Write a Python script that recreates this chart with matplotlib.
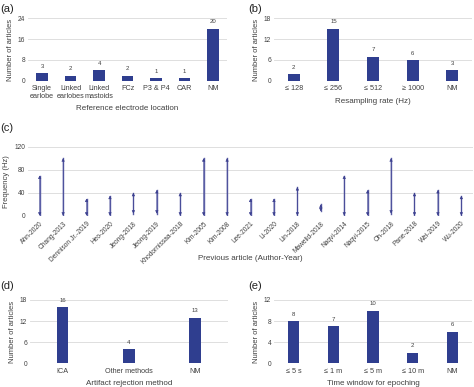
import matplotlib.pyplot as plt

# data
ref_labels = ["Single\nearlobe", "Linked\nearlobes", "Linked\nmastoids", "FCz", "P3 & P4", "CAR", "NM"]
ref_counts = [3, 2, 4, 2, 1, 1, 20]

rate_labels = ["≤ 128", "≤ 256", "≤ 512", "≥ 1000", "NM"]
rate_counts = [2, 15, 7, 6, 3]

articles = ["Ahn-2020", "Chang-2013", "Dennison Jr.-2019", "Heo-2020", "Jeong-2018",
            "Jeong-2019", "Khodornissaa-2018", "Kim-2005", "Kim-2008", "Lee-2021",
            "Li-2020", "Lin-2018", "Mawelid-2018", "Naqvi-2014", "Naqvi-2015",
            "Oh-2018", "Pane-2018", "Wei-2019", "Wu-2020"]
freq_low = [0.5, 0.5, 0.5, 0.5, 4, 4, 0.5, 0.5, 0.5, 0.5, 0.5, 0.5, 8, 0.5, 0.5, 4, 0.5, 0.5, 0.5]
freq_high = [70, 100, 30, 35, 40, 45, 40, 100, 100, 30, 30, 50, 20, 70, 45, 100, 40, 45, 35]

art_labels = ["ICA", "Other methods", "NM"]
art_counts = [16, 4, 13]

epoch_labels = ["≤ 5 s", "≤ 1 m", "≤ 5 m", "≤ 10 m", "NM"]
epoch_counts = [8, 7, 10, 2, 6]

BAR = "#2f3e8f"
TXT = "#404040"
GRID = "#d9d9d9"

plt.rcParams['font.family'] = ['Liberation Sans', 'DejaVu Sans']

fig = plt.figure(figsize=(4.74, 3.87), dpi=100)


def style(ax, yticks):
    ax.set_ylim(yticks[0], yticks[-1])
    ax.set_yticks(yticks)
    ax.grid(axis='y', color=GRID, linewidth=0.6)
    ax.set_axisbelow(True)
    for s in ax.spines.values():
        s.set_visible(False)
    ax.tick_params(length=0, labelsize=4.8, colors=TXT, pad=2)
    ax.set_ylabel("Number of articles", fontsize=5.5, color=TXT, labelpad=3)


def bars(ax, labels, counts, width, yticks, xlabel):
    x = range(len(labels))
    ax.bar(x, counts, width=width, color=BAR, zorder=3)
    for xi, c in zip(x, counts):
        ax.text(xi, c + yticks[-1] * 0.07, str(c), ha='center', va='bottom',
                fontsize=4.3, color=TXT)
    ax.set_xticks(list(x))
    ax.set_xticklabels(labels, fontsize=5.2, linespacing=1.1)
    ax.set_xlim(-0.5, len(labels) - 0.5)
    style(ax, yticks)
    ax.tick_params(axis='x', labelsize=5.2, pad=3)
    ax.set_xlabel(xlabel, fontsize=5.8, color=TXT, labelpad=4)


# (a)
ax_a = fig.add_axes([0.059, 0.791, 0.420, 0.162])
bars(ax_a, ref_labels, ref_counts, 0.41, [0, 8, 16, 24], "Reference electrode location")

# (b)
ax_b = fig.add_axes([0.578, 0.791, 0.418, 0.162])
bars(ax_b, rate_labels, rate_counts, 0.30, [0, 6, 12, 18], "Resampling rate (Hz)")

# (c)
ax_c = fig.add_axes([0.059, 0.442, 0.939, 0.179])
for i, (lo, hi) in enumerate(zip(freq_low, freq_high)):
    ax_c.plot([i, i], [lo, hi], color="#5b5ea6", lw=1.0, zorder=3)
    ax_c.annotate("", xy=(i, hi), xytext=(i, lo),
                  arrowprops=dict(arrowstyle="<|-|>", color="#3b3f8f", lw=0.4,
                                  mutation_scale=4.5, shrinkA=0, shrinkB=0), zorder=4)
ax_c.set_xlim(-0.5, len(articles) - 0.5)
ax_c.set_xticks(range(len(articles)))
ax_c.set_xticklabels(articles, rotation=45, ha='right', rotation_mode='anchor')
style(ax_c, [0, 40, 80, 120])
ax_c.tick_params(axis='x', labelsize=4.8, pad=3)
ax_c.set_ylabel("Frequency (Hz)", fontsize=5.5, color=TXT, labelpad=3)
ax_c.set_xlabel("Previous article (Author-Year)", fontsize=5.8, color=TXT)
ax_c.xaxis.set_label_coords(0.5, -0.57)

# (d)
ax_d = fig.add_axes([0.063, 0.061, 0.418, 0.164])
bars(ax_d, art_labels, art_counts, 0.17, [0, 6, 12, 18], "Artifact rejection method")

# (e)
ax_e = fig.add_axes([0.578, 0.061, 0.418, 0.164])
bars(ax_e, epoch_labels, epoch_counts, 0.28, [0, 4, 8, 12], "Time window for epoching")

for lab, x, y in [("(a)", 0.0, 0.978), ("(b)", 0.523, 0.978), ("(c)", 0.0, 0.668),
                  ("(d)", 0.0, 0.262), ("(e)", 0.523, 0.262)]:
    fig.text(x, y, lab, fontsize=8, color="#222222", va='center')

fig.savefig("out.png", dpi=100)
